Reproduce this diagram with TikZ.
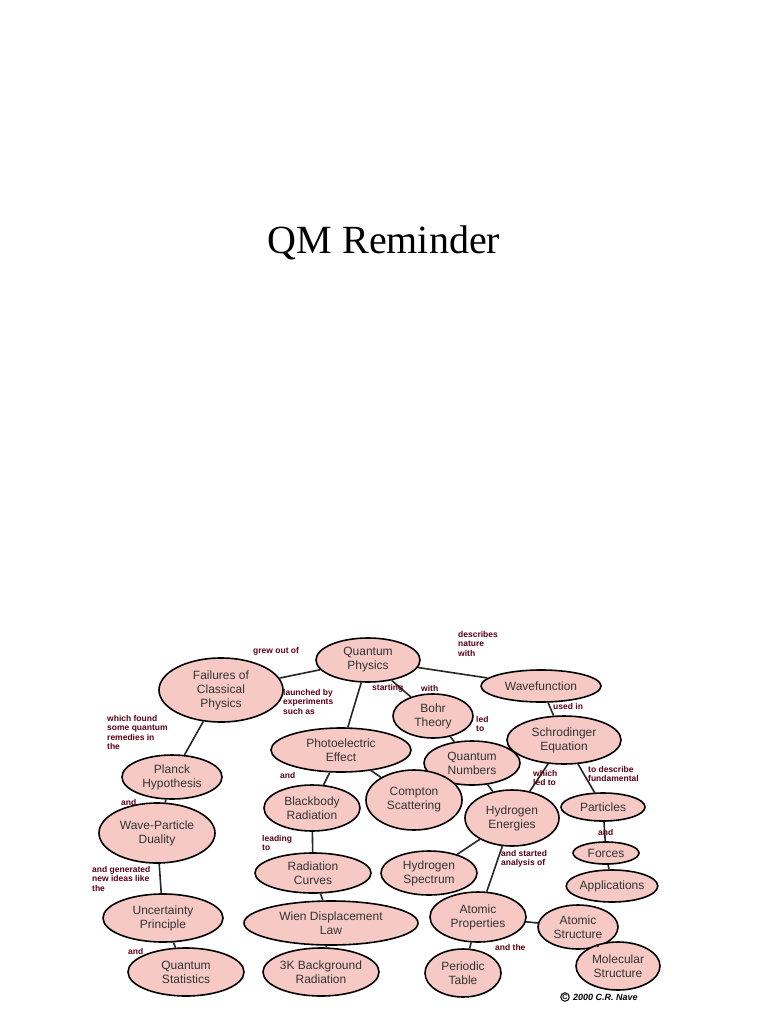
\documentclass[tikz,border=0pt]{standalone}
\usepackage{fontspec}
\setmainfont{Liberation Sans}
\newfontfamily\titlefont{Liberation Serif}
\usetikzlibrary{shapes.geometric}
\definecolor{pinkfill}{HTML}{F6C9C4}
\definecolor{lab}{HTML}{5A0012}
\begin{document}
\begin{tikzpicture}[x=1pt,y=-1pt,
 bub/.style={ellipse,draw,line width=1.6pt,fill=pinkfill,inner sep=0pt,align=center,font=\fontsize{12}{14}\selectfont,text=black!80},
 lbl/.style={text=lab,font=\fontsize{8.5}{9.5}\selectfont\bfseries,align=left,inner sep=0pt},
 edge/.style={line width=1.6pt,draw=black!85}]
\useasboundingbox (0,0) rectangle (768,1024);
\node[font=\titlefont\fontsize{40}{46}\selectfont] (title) at (384,243) {QM Reminder};
\foreach \a/\b/\c/\d in {368/660/qp/fail,368/660/qp/wave,368/660/qp/photo,368/660/qp/bohr}{}
\node[bub,minimum width=104,minimum height=44] (qp) at (368,660) {Quantum\\Physics};
\node[bub,minimum width=124,minimum height=64] (fail) at (221,690) {Failures of\\Classical\\Physics};
\node[bub,minimum width=120,minimum height=32] (wave) at (541,686) {Wavefunction};
\node[bub,minimum width=80,minimum height=44] (bohr) at (433,716) {Bohr\\Theory};
\node[bub,minimum width=140,minimum height=44] (photo) at (341,750) {Photoelectric\\Effect};
\node[bub,minimum width=114,minimum height=48] (schro) at (564,740) {Schrodinger\\Equation};
\node[bub,minimum width=96,minimum height=44] (qn) at (472,763) {Quantum\\Numbers};
\node[bub,minimum width=100,minimum height=44] (planck) at (172,777) {Planck\\Hypothesis};
\node[bub,minimum width=96,minimum height=46] (black) at (312,808) {Blackbody\\Radiation};
\node[bub,minimum width=96,minimum height=60] (compton) at (414,800) {Compton\\Scattering};
\node[bub,minimum width=94,minimum height=56] (he) at (512,818) {Hydrogen\\Energies};
\node[bub,minimum width=84,minimum height=28] (part) at (603,807) {Particles};
\node[bub,minimum width=116,minimum height=60] (wpd) at (157,833) {Wave-Particle\\Duality};
\node[bub,minimum width=66,minimum height=22] (forces) at (606,853) {Forces};
\node[bub,minimum width=96,minimum height=44] (hs) at (429,873) {Hydrogen\\Spectrum};
\node[bub,minimum width=86,minimum height=32] (app) at (612,886) {Applications};
\node[bub,minimum width=116,minimum height=40] (radc) at (313,873) {Radiation\\Curves};
\node[bub,minimum width=120,minimum height=48] (unc) at (163,918) {Uncertainty\\Principle};
\node[bub,minimum width=174,minimum height=44] (wien) at (331,923) {Wien Displacement\\Law};
\node[bub,minimum width=96,minimum height=50] (ap) at (478,917) {Atomic\\Properties};
\node[bub,minimum width=80,minimum height=44] (as) at (578,927) {Atomic\\Structure};
\node[bub,minimum width=116,minimum height=48] (qs) at (186,972) {Quantum\\Statistics};
\node[bub,minimum width=116,minimum height=48] (bg) at (321,972) {3K Background\\Radiation};
\node[bub,minimum width=76,minimum height=48] (pt) at (463,973) {Periodic\\Table};
\node[bub,minimum width=84,minimum height=48] (ms) at (618,966) {Molecular\\Structure};
\foreach \a/\b in {qp/fail,qp/wave,qp/photo,qp/bohr,fail/planck,wave/schro,bohr/qn,photo/black,photo/compton,planck/wpd,schro/he,schro/part,qn/he,black/radc,wpd/unc,part/forces,forces/app,he/hs,he/ap,radc/wien,unc/qs,wien/bg,ap/as,ap/pt,as/ms}
  \draw[edge] (\a) -- (\b);
\node[lbl,anchor=west] (l1) at (253,651) {grew out of};
\node[lbl,anchor=north west] (l2) at (458,631) {describes\\nature\\with};
\node[lbl,anchor=north west] (l3) at (283,689) {launched by\\experiments\\such as};
\node[lbl,anchor=west] (l4) at (372,688) {starting};
\node[lbl,anchor=west] (l5) at (421,688) {with};
\node[lbl,anchor=north west] (l6) at (476,716) {led\\to};
\node[lbl,anchor=west] (l7) at (553,706) {used in};
\node[lbl,anchor=north west] (l8) at (107,715) {which found\\some quantum\\remedies in\\the};
\node[lbl,anchor=west] (l9) at (280,775) {and};
\node[lbl,anchor=north west] (l10) at (533,770) {which\\led to};
\node[lbl,anchor=north west] (l11) at (588,766) {to describe\\fundamental};
\node[lbl,anchor=west] (l12) at (121,802) {and};
\node[lbl,anchor=west] (l13) at (598,832) {and};
\node[lbl,anchor=north west] (l14) at (262,835) {leading\\to};
\node[lbl,anchor=north west] (l15) at (501,850) {and started\\analysis of};
\node[lbl,anchor=north west] (l16) at (92,866) {and generated\\new ideas like\\the};
\node[lbl,anchor=west] (l17) at (128,951) {and};
\node[lbl,anchor=west] (l18) at (495,947) {and the};
\node[circle,draw,line width=1pt,inner sep=0.5pt,font=\fontsize{7}{7}\selectfont\bfseries] (cc) at (565,997) {C};
\node[anchor=west,font=\fontsize{9}{10}\selectfont\bfseries\itshape,inner sep=0pt] (l19) at (573,997) {2000 C.R. Nave};
\end{tikzpicture}
\end{document}
